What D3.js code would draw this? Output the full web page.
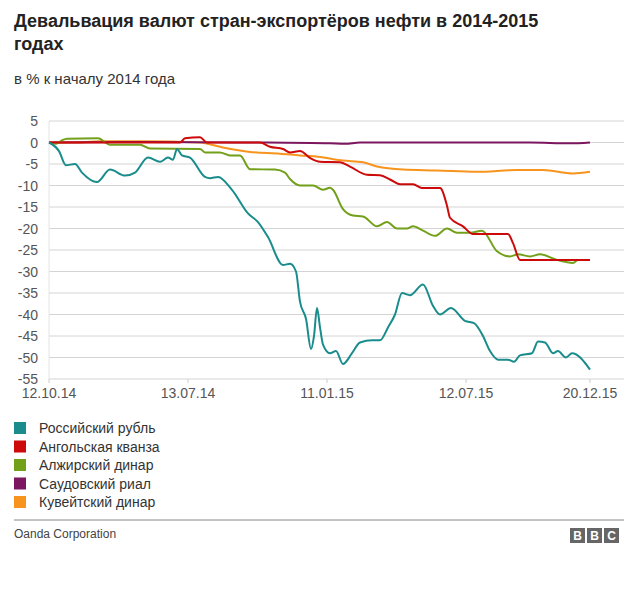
<!DOCTYPE html>
<head>
  <meta charset="utf-8">
  <script src="https://d3js.org/d3.v7.min.js"></script>
  <style>
    body { margin:0; background:#fff; font-family:"Liberation Sans", Arial, sans-serif; }
  </style>
</head>
<body>
<script>
// x in plot pixels along the time axis (49..590 of the original), values in %
var tickLabels = ["12.10.14", "13.07.14", "11.01.15", "12.07.15", "20.12.15"];
var tickPos = [49, 188, 327, 466, 590];
var yTicks = [5, 0, -5, -10, -15, -20, -25, -30, -35, -40, -45, -50, -55];

var rub = [[49,0],[59,-2],[66,-5.3],[75,-5],[82,-7],[97,-9.2],[110,-6.3],[125,-7.7],[135,-7],[148,-3.5],[160,-4.5],[168,-3.5],[173,-4],[177,-1.5],[182,-3],[190,-3.5],[205,-8],[210,-8.3],[218,-8],[232,-11],[248,-16.5],[258,-18.5],[268,-22],[283,-28.5],[290,-28.2],[296,-30],[300,-37],[306,-41],[311,-48],[314,-45],[317,-38.5],[320,-43],[323,-47],[330,-49],[336,-48.5],[343,-51.5],[352,-49],[360,-46.5],[372,-46],[380,-46],[388,-43],[395,-40],[402,-35],[410,-35.5],[423,-33],[433,-38],[440,-40],[451,-38.5],[465,-41.5],[474,-42],[483,-45],[490,-48.5],[498,-50.5],[508,-50.5],[514,-51],[520,-49.5],[532,-49],[538,-46.3],[545,-46.5],[553,-49],[558,-48.5],[566,-50],[572,-49],[590,-52.8]];
var aoa = [[49,0],[180,0],[185,1],[200,1.2],[207,0],[260,0],[270,-1],[283,-1.5],[290,-2.3],[300,-2],[310,-3.6],[320,-4.5],[340,-4.6],[350,-5.6],[367,-7.5],[380,-7.6],[390,-8.6],[400,-9.7],[413,-9.7],[422,-10.6],[440,-10.6],[447,-14.7],[450,-17.5],[463,-19.5],[473,-21.3],[508,-21.3],[513,-23.4],[520,-27.3],[590,-27.3]];
var dzd = [[49,0],[56,-0.3],[62,0.5],[67,0.9],[98,1],[110,-0.5],[140,-0.5],[150,-1.4],[200,-1.5],[205,-2.3],[220,-2.3],[230,-3],[240,-3],[250,-6.2],[275,-6.3],[285,-7],[290,-8.5],[300,-10],[313,-10],[323,-11],[330,-10.5],[333,-11],[343,-15.5],[353,-17],[363,-17.2],[377,-19.5],[387,-18.5],[397,-20],[407,-20],[413,-19.5],[423,-20.5],[435,-21.7],[447,-20],[457,-21],[470,-21],[482,-20.5],[497,-25.3],[510,-26.5],[518,-26],[530,-26.5],[540,-26],[557,-27.3],[573,-28],[578,-27.3],[590,-27.3]];
var sar = [[49,0],[150,0.1],[250,0],[330,-0.2],[345,-0.3],[360,0],[450,0],[530,0],[570,-0.2],[590,0]];
var kwd = [[49,0],[80,0],[100,0.3],[140,0.3],[200,0],[220,-1],[250,-2.2],[280,-2.6],[300,-3],[318,-3.3],[343,-4.2],[363,-4.6],[377,-5.6],[403,-6.3],[437,-6.5],[477,-6.8],[517,-6.4],[543,-6.4],[573,-7.2],[590,-6.8]];

var series = [
  {name:"Российский рубль", color:"#1a8c8c", data:rub},
  {name:"Ангольская кванза", color:"#cc0a0a", data:aoa},
  {name:"Алжирский динар", color:"#72a01b", data:dzd},
  {name:"Саудовский риал", color:"#7d1660", data:sar},
  {name:"Кувейтский динар", color:"#f7941e", data:kwd}
];

var width = 640, height = 594;
var svg = d3.select("body").append("svg").attr("width", width).attr("height", height);

var x = d3.scaleLinear().domain([49, 590]).range([49, 590]);
var y = d3.scaleLinear().domain([5, -55]).range([121, 379]);

svg.append("text").attr("x", 14).attr("y", 27).attr("font-size", 18).attr("font-weight", "bold")
  .attr("fill", "#222").text("Девальвация валют стран-экспортёров нефти в 2014-2015");
svg.append("text").attr("x", 14).attr("y", 50).attr("font-size", 18).attr("font-weight", "bold")
  .attr("fill", "#222").text("годах");
svg.append("text").attr("x", 14).attr("y", 84).attr("font-size", 15).attr("fill", "#333")
  .text("в % к началу 2014 года");

// gridlines + y labels
svg.selectAll(".grid").data(yTicks).enter().append("line")
  .attr("x1", 49).attr("x2", 624).attr("y1", d => y(d)).attr("y2", d => y(d))
  .attr("stroke", "#d4d4d4").attr("stroke-width", 1);
svg.selectAll(".yl").data(yTicks).enter().append("text")
  .attr("x", 38).attr("y", d => y(d) + 5).attr("text-anchor", "end")
  .attr("font-size", 14).attr("fill", "#555").text(d => d);
svg.append("line").attr("x1", 49).attr("x2", 49).attr("y1", 121).attr("y2", 379)
  .attr("stroke", "#e4e4e4");

// x labels
svg.selectAll(".xl").data(tickLabels).enter().append("text")
  .attr("x", (d, i) => x(tickPos[i])).attr("y", 398).attr("text-anchor", "middle")
  .attr("font-size", 14).attr("fill", "#555").text(d => d);
svg.selectAll(".xt").data(tickPos).enter().append("line")
  .attr("x1", d => x(d)).attr("x2", d => x(d)).attr("y1", 379).attr("y2", 383)
  .attr("stroke", "#ccc");

var line = d3.line().x(d => x(d[0])).y(d => y(d[1])).curve(d3.curveMonotoneX);
svg.selectAll(".series").data(series.slice().reverse()).enter().append("path")
  .attr("d", d => line(d.data)).attr("fill", "none")
  .attr("stroke", d => d.color).attr("stroke-width", 2).attr("stroke-linejoin", "round");

// legend
var lg = svg.selectAll(".lg").data(series).enter().append("g")
  .attr("transform", (d, i) => "translate(14," + (422 + i * 18.5) + ")");
lg.append("rect").attr("width", 12).attr("height", 12).attr("fill", d => d.color);
lg.append("text").attr("x", 25).attr("y", 11).attr("font-size", 14).attr("fill", "#333").text(d => d.name);

// footer
svg.append("line").attr("x1", 14).attr("x2", 624).attr("y1", 520).attr("y2", 520).attr("stroke", "#888");
svg.append("text").attr("x", 14).attr("y", 538).attr("font-size", 12).attr("fill", "#444").text("Oanda Corporation");
["B", "B", "C"].forEach(function(c, i) {
  svg.append("rect").attr("x", 570 + i * 17).attr("y", 528).attr("width", 15).attr("height", 15).attr("fill", "#666");
  svg.append("text").attr("x", 577.5 + i * 17).attr("y", 540).attr("text-anchor", "middle")
    .attr("font-size", 12).attr("font-weight", "bold").attr("fill", "#fff").text(c);
});
</script>
</body>
